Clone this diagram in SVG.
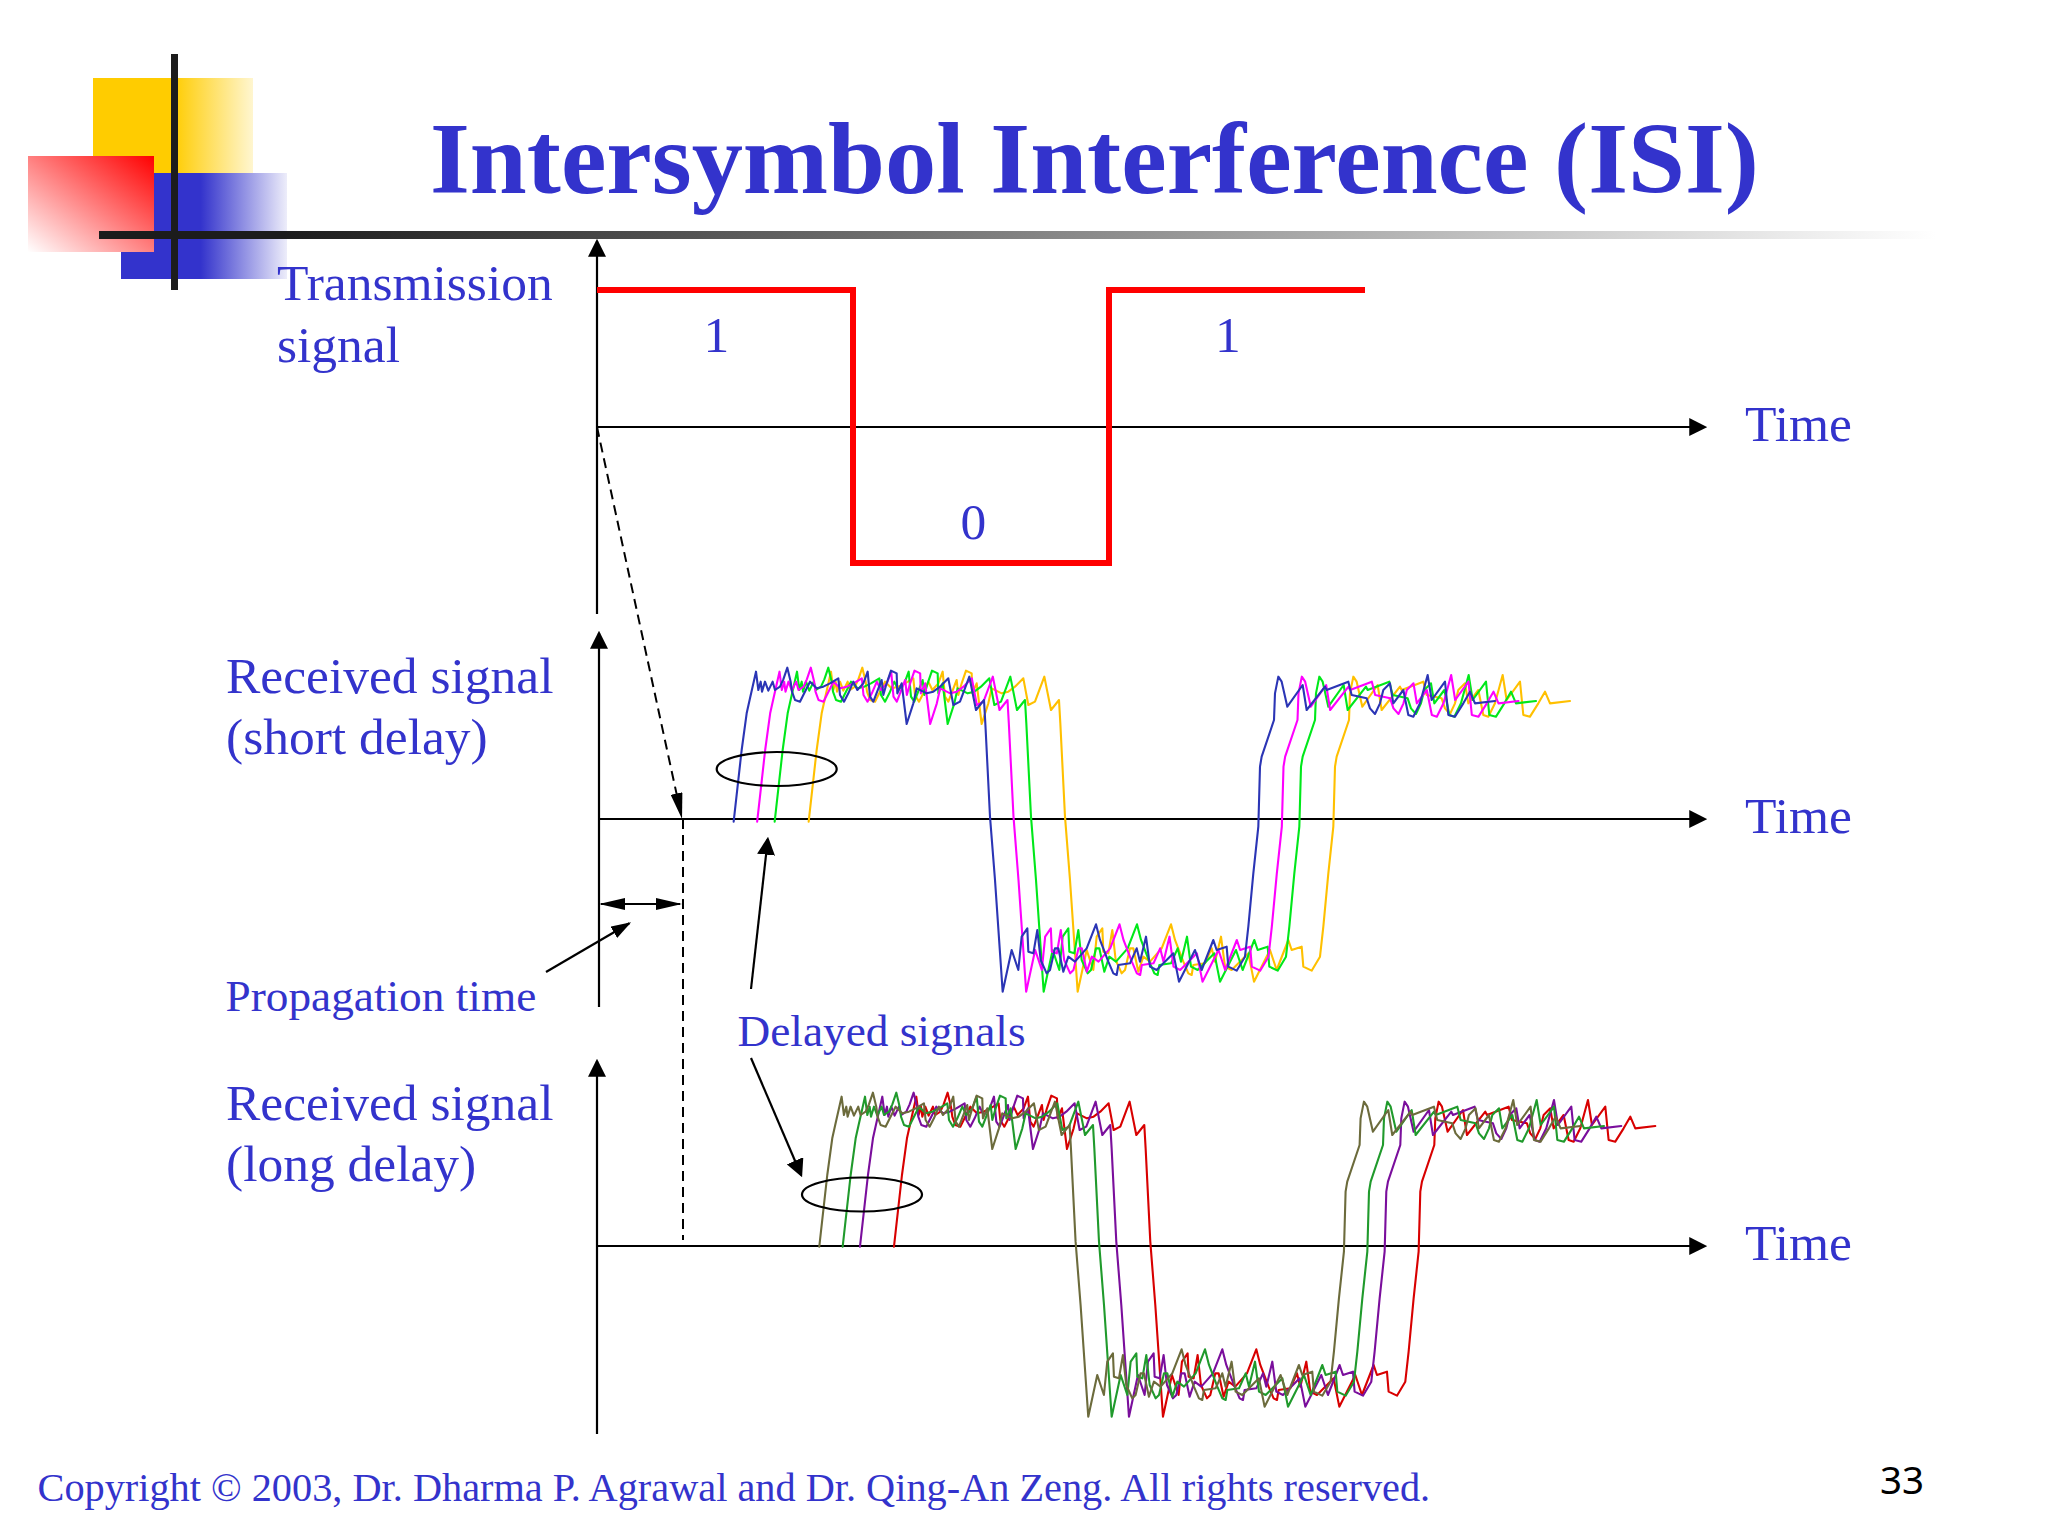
<svg xmlns="http://www.w3.org/2000/svg" xmlns:xlink="http://www.w3.org/1999/xlink" width="2048" height="1536" viewBox="0 0 2048 1536">
<style>
text{font-family:"Liberation Serif","Times New Roman",serif;fill:#3333CC}
.lg{font-size:51.5px}
.md{font-size:45.3px}
.axis{stroke:#000;stroke-width:2.2;fill:none}
.thin{stroke:#000;stroke-width:2.2;fill:none}
.dash{stroke:#000;stroke-width:2;fill:none;stroke-dasharray:10 6}
</style>
<defs>
<linearGradient id="gy"><stop offset="0.5" stop-color="#FFCC00"/><stop offset="1" stop-color="#FFF6D0"/></linearGradient>
<linearGradient id="gb"><stop offset="0.48" stop-color="#3333CC"/><stop offset="1" stop-color="#EDEDFA"/></linearGradient>
<linearGradient id="gr" x1="1" y1="0" x2="0" y2="1"><stop offset="0" stop-color="#FF0000"/><stop offset="1" stop-color="#FFFFFF"/></linearGradient>
<linearGradient id="gbar" gradientUnits="userSpaceOnUse" x1="99" y1="0" x2="1936" y2="0"><stop offset="0.1" stop-color="#1C1C1C"/><stop offset="1" stop-color="#FFFFFF"/></linearGradient>
<marker id="head" markerUnits="userSpaceOnUse" markerWidth="18" markerHeight="18" viewBox="0 0 16 16" refX="14" refY="8" orient="auto"><path d="M0 0L16 8L0 16Z" fill="#000"/></marker>
<marker id="mid" markerUnits="userSpaceOnUse" markerWidth="20" markerHeight="13" viewBox="0 0 20 13" refX="18" refY="6.5" orient="auto"><path d="M0 0L20 6.5L0 13Z" fill="#000"/></marker>
<marker id="narrow" markerUnits="userSpaceOnUse" markerWidth="26" markerHeight="12" viewBox="0 0 26 12" refX="24" refY="6" orient="auto-start-reverse"><path d="M0 0L26 6L0 12Z" fill="#000"/></marker>
<path id="wave" transform="translate(700 640) scale(0.33333)" fill="none" stroke-width="6.3" stroke-linejoin="round" stroke-linecap="round" d="M101 545L125 330L140 220L150 175L168 95L175 150L182 125L186 155L195 125L205 152L218 125L225 150L240 140L250 118L262 83L272 125L276 155L285 180L300 185L310 165L330 125L350 145L370 140L390 130L415 115L420 165L432 185L445 160L460 125L472 150L490 130L503 95L510 170L520 185L545 120L550 165L560 130L573 92L590 100L592 160L605 130L620 252L640 190L650 145L680 160L700 155L720 140L745 115L760 195L780 185L808 110L828 210L852 180L856 250L870 530L885 720L908 1055L935 930L955 990L965 890L982 865L985 935L1000 940L1012 870L1022 960L1040 1000L1050 990L1065 925L1075 925L1090 995L1105 950L1125 965L1160 925L1188 853L1200 900L1225 965L1240 1000L1250 1005L1255 975L1290 970L1310 925L1320 965L1338 890L1350 980L1370 990L1400 960L1420 940L1437 1025L1485 930L1505 990L1540 900L1550 930L1580 920L1585 980L1610 992L1635 950L1645 860L1660 700L1675 560L1680 380L1685 350L1722 240L1725 160L1735 110L1745 125L1762 200L1808 135L1820 210L1875 140L1880 150L1945 125L1955 165L2000 175L2010 205L2025 222L2040 190L2050 150L2070 130L2080 190L2110 150L2125 225L2140 230L2160 190L2183 105L2195 180L2235 125L2245 225L2265 230L2290 190L2310 155L2325 190L2385 183"/>
</defs>
<rect width="2048" height="1536" fill="#FFFFFF"/>
<g id="decoration">
<rect x="93" y="78" width="160" height="95" fill="url(#gy)"/>
<rect x="121" y="173" width="166" height="106" fill="url(#gb)"/>
<rect x="28" y="156" width="126" height="96" fill="url(#gr)"/>
<rect x="99" y="231" width="1837" height="8" fill="url(#gbar)"/>
<rect x="171" y="54" width="7" height="236" fill="#1C1C1C"/>
</g>
<text id="title" x="430" y="192.5" font-size="102.4" font-weight="bold">Intersymbol Interference (ISI)</text>
<g id="connectors">
<line class="axis" x1="597" y1="614" x2="597" y2="241" marker-end="url(#head)"/>
<line class="axis" x1="597" y1="427" x2="1705" y2="427" marker-end="url(#head)"/>
<line class="axis" x1="599" y1="1007" x2="599" y2="633" marker-end="url(#head)"/>
<line class="axis" x1="599" y1="819" x2="1705" y2="819" marker-end="url(#head)"/>
<line class="axis" x1="597" y1="1434" x2="597" y2="1061" marker-end="url(#head)"/>
<line class="axis" x1="597" y1="1246" x2="1705" y2="1246" marker-end="url(#head)"/>
<line class="dash" x1="597" y1="427" x2="681.6" y2="817" marker-end="url(#narrow)"/>
<line class="dash" x1="683" y1="819" x2="683" y2="1240"/>
<line class="thin" x1="601" y1="904" x2="680" y2="904" marker-start="url(#narrow)" marker-end="url(#narrow)"/>
<line class="thin" x1="546" y1="972" x2="629.4" y2="923.2" marker-end="url(#mid)"/>
<line class="thin" x1="751" y1="989" x2="767.8" y2="839" marker-end="url(#head)"/>
<line class="thin" x1="751" y1="1058" x2="801.2" y2="1175.2" marker-end="url(#head)"/>
</g>
<g id="transmission-signal">
<path d="M597 290H853V563H1109V290H1365" fill="none" stroke="#FF0000" stroke-width="6"/>
<text class="lg" x="703.5" y="352">1</text>
<text class="lg" x="960.5" y="539">0</text>
<text class="lg" x="1215" y="352">1</text>
</g>
<g id="short-delay-signals">
<use xlink:href="#wave" href="#wave" stroke="#FFC000" transform="translate(75 0)"/>
<use xlink:href="#wave" href="#wave" stroke="#00E81A" transform="translate(41 0)"/>
<use xlink:href="#wave" href="#wave" stroke="#FF00FF" transform="translate(23.5 0)"/>
<use xlink:href="#wave" href="#wave" stroke="#2B35B5"/>
<ellipse cx="776.7" cy="769" rx="60" ry="17" class="thin"/>
</g>
<g id="long-delay-signals">
<use xlink:href="#wave" href="#wave" stroke="#D80000" transform="translate(160.3 425)"/>
<use xlink:href="#wave" href="#wave" stroke="#7A0E9C" transform="translate(126.3 425)"/>
<use xlink:href="#wave" href="#wave" stroke="#209A2C" transform="translate(109 425)"/>
<use xlink:href="#wave" href="#wave" stroke="#6C6B3C" transform="translate(85.6 425)"/>
<ellipse cx="862" cy="1194.5" rx="60" ry="17" class="thin"/>
</g>
<g id="labels">
<text class="lg" x="277" y="300">Transmission</text>
<text class="lg" x="277" y="362">signal</text>
<text class="lg" x="1745" y="441">Time</text>
<text class="lg" x="1745" y="833">Time</text>
<text class="lg" x="1745" y="1260">Time</text>
<text class="lg" x="226" y="693">Received signal</text>
<text class="lg" x="226" y="754">(short delay)</text>
<text class="lg" x="226" y="1119.5">Received signal</text>
<text class="lg" x="226" y="1180.5">(long delay)</text>
<text class="md" x="225.5" y="1011">Propagation time</text>
<text class="md" x="737.5" y="1046">Delayed signals</text>
<text id="copyright" x="37.5" y="1501" font-size="40.3">Copyright © 2003, Dr. Dharma P. Agrawal and Dr. Qing-An Zeng. All rights reserved.</text>
<text id="page-number" x="1880" y="1494" style="font-family:'Noto Sans',sans-serif;fill:#000" font-size="38.5">33</text>
</g>
</svg>
